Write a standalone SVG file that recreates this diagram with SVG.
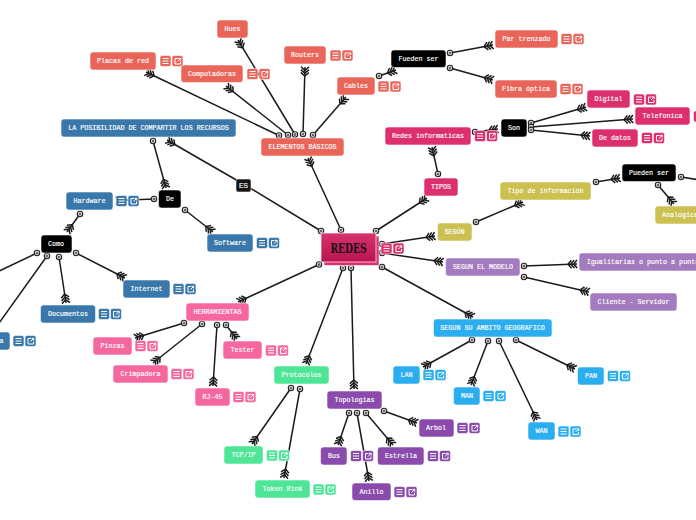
<svg xmlns="http://www.w3.org/2000/svg" width="696" height="520" viewBox="0 0 696 520">
<style>
text{font-family:"Liberation Mono","Courier New",monospace;font-size:6.7px;stroke:#fff;stroke-width:.15px;fill:#fff;text-anchor:middle}
.n rect,.btn{stroke:#fff;stroke-opacity:.55;stroke-width:1}
.r{fill:#E9655A}.b{fill:#3A78AB}.m{fill:#DD2F6E}.o{fill:#CBC050}.l{fill:#A37BBE}.c{fill:#2BAEEF}.p{fill:#8A4BAC}.g{fill:#4DE596}.h{fill:#F5679E}.k{fill:#000}
.n rect{fill:inherit}
#links line{stroke:#1a1a1a;stroke-width:1.5;fill:none;marker-start:url(#ring);marker-end:url(#feather)}
#links line.s{marker-end:none}
#links line.e{marker-start:none}
</style>
<defs>
<linearGradient id="grad" x1="0" y1="0" x2="0" y2="1"><stop offset="0" stop-color="#D9336F"/><stop offset="1" stop-color="#B8134E"/></linearGradient>
<marker id="ring" markerUnits="userSpaceOnUse" markerWidth="8" markerHeight="8" refX="4" refY="4" overflow="visible"><circle cx="4" cy="4" r="2.700" fill="#fff" stroke="#222" stroke-width="1.100"/><circle cx="4" cy="4" r="1.500" fill="#666"/></marker>
<marker id="feather" markerUnits="userSpaceOnUse" markerWidth="12" markerHeight="10" refX="9" refY="5" orient="auto" overflow="visible"><path d="M0 5L3.500 1M0 5L3.500 9M2.800 5L6.300 1M2.800 5L6.300 9M5.600 5L9.100 1M5.600 5L9.100 9" fill="none" stroke="#1a1a1a" stroke-width="1.500"/></marker>
<g id="btns">
<rect class="btn" x="0" y="0" width="11" height="11" rx="2"/><rect class="btn" x="12" y="0" width="11" height="11" rx="2"/>
<path d="M2.500 3H8.500M2.500 5.500H8.500M2.500 8H8.500M18 3H15V8.500H20.500V6M17.500 6L20.500 3M18.500 2.800H20.700V5" fill="none" stroke="#fff" stroke-width="1"/>
</g>
</defs>
<rect width="696" height="520" fill="#fff"/>
<g id="links">
<line x1="279" y1="135.500" x2="146" y2="72"/>
<line x1="288" y1="135" x2="226" y2="86"/>
<line x1="295" y1="134.500" x2="238" y2="40"/>
<line x1="303" y1="134" x2="305" y2="67"/>
<line x1="313" y1="135" x2="346" y2="97"/>
<line x1="341" y1="230" x2="308" y2="158"/>
<line class="s" x1="321" y1="231" x2="245" y2="185"/>
<line class="e" x1="245" y1="185" x2="167" y2="140"/>
<line x1="153" y1="141" x2="166" y2="188"/>
<line x1="154" y1="199" x2="116" y2="200.500"/>
<line x1="185" y1="210" x2="213" y2="232"/>
<line x1="80" y1="214" x2="67" y2="232"/>
<line class="s" x1="37" y1="253" x2="-3" y2="272"/>
<line class="s" x1="47" y1="256" x2="-3" y2="326"/>
<line x1="59" y1="257" x2="66" y2="303"/>
<line x1="76" y1="253" x2="125" y2="278"/>
<line x1="319" y1="264.500" x2="238" y2="302"/>
<line x1="184" y1="323" x2="135" y2="338"/>
<line x1="202" y1="324" x2="153" y2="363"/>
<line x1="217" y1="325" x2="213" y2="386"/>
<line x1="226" y1="325" x2="237" y2="339"/>
<line x1="343" y1="268" x2="306" y2="364"/>
<line x1="291" y1="388" x2="252" y2="444"/>
<line x1="300" y1="389" x2="284" y2="478"/>
<line x1="351" y1="268" x2="354" y2="389"/>
<line x1="349" y1="413" x2="338" y2="445"/>
<line x1="357" y1="413" x2="369" y2="481"/>
<line x1="366" y1="413" x2="393" y2="445"/>
<line x1="384" y1="411" x2="417" y2="423"/>
<line x1="382" y1="267" x2="473" y2="317"/>
<line x1="472" y1="340" x2="423" y2="367"/>
<line x1="488" y1="341" x2="471" y2="385"/>
<line x1="499" y1="341" x2="537" y2="420"/>
<line x1="516" y1="340" x2="575" y2="369"/>
<line x1="382" y1="253" x2="443" y2="262"/>
<line x1="382" y1="244" x2="435" y2="236"/>
<line x1="376" y1="231" x2="427" y2="198"/>
<line x1="438" y1="174" x2="432" y2="147"/>
<line x1="475" y1="132" x2="498" y2="129"/>
<line x1="531" y1="123" x2="586" y2="107"/>
<line x1="531" y1="127" x2="633" y2="119"/>
<line x1="531" y1="130" x2="590" y2="136"/>
<line x1="379" y1="76" x2="396" y2="70"/>
<line x1="450" y1="53" x2="493" y2="45"/>
<line x1="450" y1="68" x2="493" y2="80"/>
<line x1="476" y1="222" x2="523" y2="202"/>
<line x1="596" y1="182" x2="620" y2="178"/>
<line class="s" x1="681" y1="177" x2="700" y2="180"/>
<line x1="658" y1="185" x2="674" y2="204"/>
<line x1="524" y1="266" x2="577" y2="264"/>
<line x1="524" y1="277" x2="589" y2="292"/>
</g>
<g id="n-hues" class="n r"><rect x="217" y="20" width="31" height="18" rx="3"/><text x="232.500" y="31">Hues</text></g>
<g id="n-placas" class="n r"><rect x="90" y="52" width="66" height="18" rx="3"/><text x="123" y="63">Placas de red</text><use href="#btns" x="160" y="55.500"/></g>
<g id="n-comp" class="n r"><rect x="181" y="65" width="62" height="17.500" rx="3"/><text x="212" y="76">Computadoras</text><use href="#btns" x="247" y="68.500"/></g>
<g id="n-routers" class="n r"><rect x="284" y="46" width="42" height="18" rx="3"/><text x="305" y="57">Routers</text><use href="#btns" x="330" y="50"/></g>
<g id="n-cables" class="n r"><rect x="337" y="77" width="38" height="18" rx="3"/><text x="356" y="88">Cables</text><use href="#btns" x="378" y="81"/></g>
<g id="n-elem" class="n r"><rect x="261" y="138" width="83" height="18" rx="3"/><text x="302.500" y="149">ELEMENTOS BÁSICOS</text></g>
<g id="n-par" class="n r"><rect x="495" y="30" width="63" height="18" rx="3"/><text x="526.500" y="41">Par trenzado</text><use href="#btns" x="561" y="33.500"/></g>
<g id="n-fibra" class="n r"><rect x="495" y="80" width="62" height="18" rx="3"/><text x="526" y="91">Fibra óptica</text><use href="#btns" x="560" y="83.500"/></g>
<g id="n-fueden" class="n k"><rect x="391" y="50" width="55" height="17.500" rx="3"/><text x="418.500" y="61">Fueden ser</text></g>
<g id="n-posib" class="n b"><rect x="61" y="119" width="175" height="18" rx="3"/><text x="148.500" y="130">LA POSIBILIDAD DE COMPARTIR LOS RECURSOS</text></g>
<g id="n-es" class="n k"><rect x="236" y="179" width="15" height="13" rx="2" style="fill:#141414"/><text x="243.500" y="188" style="font-family:'Liberation Sans',sans-serif">ES</text></g>
<g id="n-de" class="n k"><rect x="158.500" y="190" width="22.500" height="18" rx="3"/><text x="170" y="201">De</text></g>
<g id="n-hard" class="n b"><rect x="66" y="192" width="47" height="18" rx="3"/><text x="89.500" y="203">Hardware</text><use href="#btns" x="116" y="195.500"/></g>
<g id="n-soft" class="n b"><rect x="207" y="234" width="46" height="18" rx="3"/><text x="230" y="245">Software</text><use href="#btns" x="256.500" y="237.500"/></g>
<g id="n-como" class="n k"><rect x="41" y="235" width="31" height="18" rx="3"/><text x="56" y="246">Como</text></g>
<g id="n-inter" class="n b"><rect x="123" y="280" width="47" height="18" rx="3"/><text x="146.500" y="291">Internet</text><use href="#btns" x="173" y="283.500"/></g>
<g id="n-docs" class="n b"><rect x="40.500" y="305" width="55" height="18" rx="3"/><text x="68" y="316">Documentos</text><use href="#btns" x="98.500" y="308.500"/></g>
<g id="n-clip" class="n b"><rect x="-30" y="332" width="40" height="18" rx="3"/><text x="1.500" y="343">a</text><use href="#btns" x="13" y="335.500"/></g>
<g id="n-herr" class="n h"><rect x="186" y="303" width="63" height="18" rx="3"/><text x="217.500" y="314">HERRAMIENTAS</text></g>
<g id="n-pinzas" class="n h"><rect x="93" y="337" width="39" height="18" rx="3"/><text x="112.500" y="348">Pinzas</text><use href="#btns" x="135" y="340.500"/></g>
<g id="n-crimp" class="n h"><rect x="113" y="365" width="55" height="18" rx="3"/><text x="140.500" y="376">Crimpadora</text><use href="#btns" x="171" y="368.500"/></g>
<g id="n-rj" class="n h"><rect x="195" y="388" width="35" height="18" rx="3"/><text x="212.500" y="399">RJ-45</text><use href="#btns" x="233" y="391.500"/></g>
<g id="n-tester" class="n h"><rect x="223" y="341" width="39" height="18" rx="3"/><text x="242.500" y="352">Tester</text><use href="#btns" x="265.500" y="345"/></g>
<g id="n-proto" class="n g"><rect x="274" y="366" width="55" height="18" rx="3"/><text x="301.500" y="377">Protocolos</text></g>
<g id="n-tcp" class="n g"><rect x="224" y="446" width="39" height="18" rx="3"/><text x="243.500" y="457">TCP/IP</text><use href="#btns" x="266.500" y="450"/></g>
<g id="n-token" class="n g"><rect x="255" y="480" width="55" height="18" rx="3"/><text x="282.500" y="491">Token Rink</text><use href="#btns" x="313" y="484"/></g>
<g id="n-topo" class="n p"><rect x="327" y="391" width="55" height="18" rx="3"/><text x="354.500" y="402">Topologias</text></g>
<g id="n-bus" class="n p"><rect x="320.500" y="447" width="26.500" height="18" rx="3"/><text x="334" y="458">Bus</text><use href="#btns" x="350.500" y="450.500"/></g>
<g id="n-estrella" class="n p"><rect x="377.500" y="447" width="46.500" height="18" rx="3"/><text x="401" y="458">Estrella</text><use href="#btns" x="427.500" y="450.500"/></g>
<g id="n-arbol" class="n p"><rect x="419" y="419" width="35" height="18" rx="3"/><text x="436" y="430">Arbol</text><use href="#btns" x="457" y="422.500"/></g>
<g id="n-anillo" class="n p"><rect x="352" y="483" width="39" height="17.500" rx="3"/><text x="371.500" y="494">Anillo</text><use href="#btns" x="394" y="486.500"/></g>
<g id="n-ambito" class="n c"><rect x="433.500" y="319" width="118.500" height="18" rx="3"/><text x="492.500" y="330">SEGUN SU AMBITO GEOGRAFICO</text></g>
<g id="n-lan" class="n c"><rect x="393" y="366" width="27" height="18" rx="3"/><text x="406.500" y="377">LAN</text><use href="#btns" x="423" y="369.500"/></g>
<g id="n-man" class="n c"><rect x="453.500" y="387" width="26.500" height="18" rx="3"/><text x="467" y="398">MAN</text><use href="#btns" x="483" y="390.500"/></g>
<g id="n-wan" class="n c"><rect x="528" y="422" width="27" height="18" rx="3"/><text x="541.500" y="433">WAN</text><use href="#btns" x="558" y="426"/></g>
<g id="n-pan" class="n c"><rect x="577.500" y="367" width="26.500" height="18" rx="3"/><text x="591" y="378">PAN</text><use href="#btns" x="607.500" y="370.500"/></g>
<g id="n-modelo" class="n l"><rect x="445.500" y="258" width="74.500" height="18" rx="3"/><text x="483" y="269">SEGUN EL MODELO</text></g>
<g id="n-igual" class="n l"><rect x="579" y="253" width="130" height="18" rx="3"/><text x="643" y="264">Igualitarias o punto a punto</text></g>
<g id="n-cliente" class="n l"><rect x="590" y="293" width="87" height="18" rx="3"/><text x="633.500" y="304">Cliente - Servidor</text></g>
<g id="n-segun" class="n o"><rect x="437.500" y="223" width="34.500" height="18" rx="3"/><text x="454.500" y="234">SEGÚN</text></g>
<g id="n-tipoinf" class="n o"><rect x="500" y="182" width="91" height="18" rx="3"/><text x="545.500" y="193">Tipo de información</text></g>
<g id="n-pueden" class="n k"><rect x="622" y="164" width="54" height="17.500" rx="3"/><text x="649" y="175">Pueden ser</text></g>
<g id="n-analog" class="n o"><rect x="655" y="206" width="50" height="18" rx="3"/><text x="680" y="217">Analogica</text></g>
<g id="n-tipos" class="n m"><rect x="424" y="178" width="34" height="18" rx="3"/><text x="441" y="189">TIPOS</text></g>
<g id="n-redinf" class="n m"><rect x="385" y="127" width="86" height="18" rx="3"/><text x="428" y="138">Redes informaticas</text><use href="#btns" x="474.500" y="130.500"/></g>
<g id="n-son" class="n k"><rect x="501" y="119" width="26" height="18" rx="3"/><text x="514" y="130">Son</text></g>
<g id="n-digital" class="n m"><rect x="587" y="90" width="43" height="18" rx="3"/><text x="608.500" y="101">Digital</text><use href="#btns" x="633.500" y="94"/></g>
<g id="n-tel" class="n m"><rect x="635" y="107" width="55" height="18" rx="3"/><text x="662.500" y="118">Telefonica</text><use href="#btns" x="693.500" y="111"/></g>
<g id="n-datos" class="n m"><rect x="592" y="129" width="46" height="18" rx="3"/><text x="615" y="140">De datos</text><use href="#btns" x="641.500" y="132.500"/></g>
<g id="n-redes" class="m"><rect x="324" y="236" width="55" height="29.500" fill="#DD2F6E" stroke="#fff" stroke-opacity=".6"/><rect x="321" y="233" width="55" height="29" fill="url(#grad)" stroke="#fff" stroke-opacity=".7"/><text x="348.500" y="253" textLength="36" lengthAdjust="spacingAndGlyphs" style="font-family:'DejaVu Serif',serif;font-size:13px;font-weight:bold;fill:#111;stroke:none">REDES</text><use href="#btns" x="381" y="243"/></g>
</svg>
